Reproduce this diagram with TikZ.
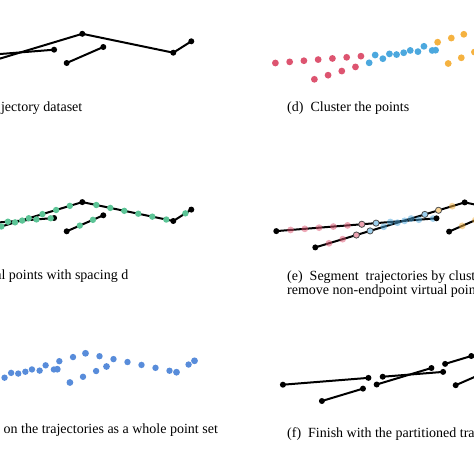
\documentclass[tikz,border=0pt]{standalone}
\usepackage{fontspec}
\setmainfont{Liberation Serif}
\usetikzlibrary{calc}
\definecolor{clred}{RGB}{221,84,112}
\definecolor{clblue}{RGB}{76,168,222}
\definecolor{clorange}{RGB}{245,178,64}
\definecolor{vgreen}{RGB}{92,196,150}
\definecolor{ptblue}{RGB}{88,140,218}
\newcommand{\vgap}{14.3pt}
% the same trajectories, in the frame of the current scope
\newcommand{\trajcoords}{%
  \coordinate (s1) at (-106.1,62.5);  \coordinate (e1) at (54.1,49.7);
  \coordinate (s2) at (-67.1,78.8);   \coordinate (v2a) at (82.3,33.8);
  \coordinate (v2b) at (173.3,52.7);  \coordinate (e2) at (191.3,41.3);
  \coordinate (s3) at (66.7,63);      \coordinate (e3) at (103.3,47);}
\newcommand{\vpoints}[4]{%
  \foreach \k in {1,...,#3} \fill[#4] ($(#1)!\k*\vgap!(#2)$) circle (3.2pt);}
\tikzset{
  traj/.style={black, line width=2pt, line cap=round, line join=round},
  captxt/.style={inner sep=0pt, font=\fontsize{14}{16}\selectfont},
  fadept/.style={fill=#1, fill opacity=0.5},
  keptpt/.style={draw=black!70, fill=#1!55, line width=0.8pt},
}
\begin{document}
\begin{tikzpicture}[x=1pt, y=-1pt]
  \useasboundingbox (0,0) rectangle (474,474);

  % (a) raw trajectories
  \begin{scope}
    \trajcoords
    \draw[traj] (s1) -- (e1);
    \draw[traj] (s2) -- (v2a) -- (v2b) -- (e2);
    \draw[traj] (s3) -- (e3);
    \foreach \p in {s1,e1,s2,v2a,v2b,e2,s3,e3} \fill (\p) circle (3pt);
  \end{scope}
  \node[captxt, anchor=base east] (capa) at (82.5,111) {jectory dataset};

  % (b) virtual points
  \begin{scope}[shift={(0,168.3)}]
    \trajcoords
    \draw[traj] (s1) -- (e1);
    \draw[traj] (s2) -- (v2a) -- (v2b) -- (e2);
    \draw[traj] (s3) -- (e3);
    \foreach \p in {s1,e1,s2,v2a,v2b,e2,s3,e3} \fill (\p) circle (3pt);
    \vpoints{s1}{e1}{11}{vgreen}
    \vpoints{s2}{v2a}{10}{vgreen}
    \vpoints{v2a}{v2b}{6}{vgreen}
    \vpoints{v2b}{e2}{1}{vgreen}
    \vpoints{s3}{e3}{2}{vgreen}
  \end{scope}
  \node[captxt, anchor=base east] (capb) at (128.5,279) {al points with spacing d};

  % (c) one point set
  \begin{scope}[shift={(3.2,319.5)}]
    \trajcoords
    \foreach \p in {s1,e1,s2,v2a,v2b,e2,s3,e3} \fill[ptblue] (\p) circle (3.4pt);
    \vpoints{s1}{e1}{11}{ptblue}
    \vpoints{s2}{v2a}{10}{ptblue}
    \vpoints{v2a}{v2b}{6}{ptblue}
    \vpoints{v2b}{e2}{1}{ptblue}
    \vpoints{s3}{e3}{2}{ptblue}
  \end{scope}
  \node[captxt, anchor=base west] (capc) at (3.5,433) {on the trajectories as a whole point set};

  % (d) clusters
  \begin{scope}[shift={(381.5,0.5)}]
    \trajcoords
    \foreach \k/\c in {0/clred,1/clred,2/clred,3/clred,4/clred,5/clred,6/clred,
                       7/clblue,8/clblue,9/clblue,10/clblue,11/clblue}
      \fill[\c] ($(s1)!\k*\vgap!(e1)$) circle (3.4pt);
    \fill[clblue] (e1) circle (3.4pt);
    \foreach \k/\c in {0/clred,1/clred,2/clred,3/clred,4/clblue,5/clblue,6/clblue,
                       7/clblue,8/clblue,9/clorange,10/clorange}
      \fill[\c] ($(s2)!\k*\vgap!(v2a)$) circle (3.4pt);
    \fill[clorange] (v2a) circle (3.4pt);
    \foreach \k in {0,1,2} \fill[clorange] ($(s3)!\k*\vgap!(e3)$) circle (3.4pt);
  \end{scope}
  \node[captxt, anchor=base west] (capd) at (287,111) {(d)~~Cluster the points};

  % (e) segment by clusters
  \begin{scope}[shift={(382.4,168.6)}]
    \trajcoords
    \draw[traj] (s1) -- (e1);
    \draw[traj] (s2) -- (v2a) -- (v2b) -- (e2);
    \draw[traj] (s3) -- (e3);
    \foreach \k/\c in {1/clred,2/clred,3/clred,4/clred,5/clred,
                       8/clblue,9/clblue,10/clblue,11/clblue}
      \fill[fadept=\c] ($(s1)!\k*\vgap!(e1)$) circle (3.4pt);
    \foreach \k/\c in {1/clred,2/clred,5/clblue,6/clblue,7/clblue,10/clorange}
      \fill[fadept=\c] ($(s2)!\k*\vgap!(v2a)$) circle (3.4pt);
    \foreach \k in {1,2} \fill[fadept=clorange] ($(s3)!\k*\vgap!(e3)$) circle (3.4pt);
    \foreach \k/\c in {6/clred,7/clblue}
      \filldraw[keptpt=\c] ($(s1)!\k*\vgap!(e1)$) circle (3.1pt);
    \foreach \k/\c in {3/clred,4/clblue,8/clblue,9/clorange}
      \filldraw[keptpt=\c] ($(s2)!\k*\vgap!(v2a)$) circle (3.1pt);
    \foreach \p in {s1,e1,s2,v2a,v2b,e2,s3,e3} \fill (\p) circle (3pt);
  \end{scope}
  \node[captxt, anchor=base west] (cape1) at (287,280) {(e)~~Segment~~trajectories by clust};
  \node[captxt, anchor=base west] (cape2) at (287,294) {remove non-endpoint virtual poin};

  % (f) partitioned trajectories
  \begin{scope}[shift={(389,322.2)}]
    \trajcoords
    \coordinate (a6) at ($(s1)!6*\vgap!(e1)$);
    \coordinate (a7) at ($(s1)!7*\vgap!(e1)$);
    \coordinate (b3) at ($(s2)!3*\vgap!(v2a)$);
    \coordinate (b4) at ($(s2)!4*\vgap!(v2a)$);
    \coordinate (b8) at ($(s2)!8*\vgap!(v2a)$);
    \coordinate (b9) at ($(s2)!9*\vgap!(v2a)$);
    \draw[traj] (s1) -- (a6);
    \draw[traj] (a7) -- (e1);
    \draw[traj] (s2) -- (b3);
    \draw[traj] (b4) -- (b8);
    \draw[traj] (b9) -- (v2a) -- (v2b) -- (e2);
    \draw[traj] (s3) -- (e3);
    \foreach \p in {s1,a6,a7,e1,s2,b3,b4,b8,b9,v2a,v2b,e2,s3,e3} \fill (\p) circle (3pt);
  \end{scope}
  \node[captxt, anchor=base west] (capf) at (287,437) {(f)~~Finish with the partitioned tra};
\end{tikzpicture}
\end{document}
